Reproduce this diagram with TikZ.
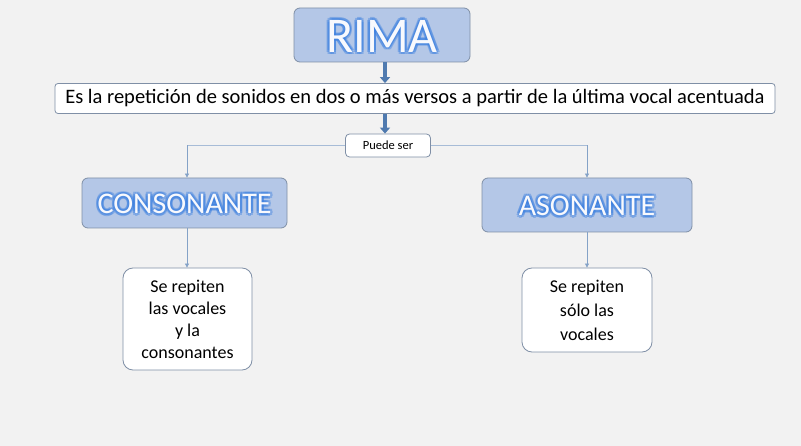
\documentclass[tikz,border=0pt]{standalone}
\usetikzlibrary{arrows.meta}
\usepackage{fontspec}
\setmainfont{Carlito}
\definecolor{bg}{HTML}{F2F2F2}
\definecolor{bfill}{HTML}{B4C7E7}
\definecolor{bdraw}{HTML}{7F8FA6}
\definecolor{arr}{HTML}{4F7AAF}
\definecolor{glow}{HTML}{3A7FE0}
\newcommand{\glowtext}[4]{% name, pos, size, text
  \foreach \dx/\dy in {-2.5/0,2.5/0,0/-2.5,0/2.5,-2/-2,2/2,-2/2,2/-2}{
    \node[text=glow,opacity=0.4,font=\fontsize{#3}{#3}\selectfont] at ([shift={(\dx,\dy)}]#2) {#4};}
  \node[text=white!90!bfill,font=\fontsize{#3}{#3}\selectfont] at (#2) {#4};}
\begin{document}
\begin{tikzpicture}[x=1pt,y=-1pt,
  bluebox/.style={draw=bdraw,fill=bfill,rounded corners=6pt,line width=0.8pt},
  whitebox/.style={draw=bdraw,fill=white,rounded corners=6pt,line width=0.8pt},
  thick arrow/.style={draw=arr,line width=3.5pt,-{Triangle[length=6pt,width=10pt]}},
  thin arrow/.style={draw=arr!70,line width=0.7pt,-{Triangle[length=4pt,width=4pt]}},
  hline/.style={draw=arr!50,line width=0.8pt}]
\useasboundingbox[fill=bg] (0,0) rectangle (801,446);
\node[bluebox,minimum width=176pt,minimum height=54pt] (rima) at (382,35) {};
\glowtext{rima}{382,36}{50}{RIMA}
\node[whitebox,rounded corners=3pt,minimum width=720pt,minimum height=30pt,font=\fontsize{20.5}{20.5}\selectfont] (def) at (415,98.5) {Es la repetición de sonidos en dos o más versos a partir de la última vocal acentuada};
\node[whitebox,rounded corners=4pt,minimum width=85pt,minimum height=23pt,font=\fontsize{12.5}{12.5}\selectfont] (puede) at (388,145.5) {Puede ser};
\draw[thick arrow] (rima.south -| 385,0) -- (def.north -| 385,0);
\draw[thick arrow] (def.south -| 385,0) -- (puede.north -| 385,0);
\node[bluebox,minimum width=205pt,minimum height=50pt] (cons) at (184.5,203) {};
\glowtext{cons}{184.5,204}{30}{CONSONANTE}
\node[bluebox,minimum width=210pt,minimum height=54pt] (ason) at (587,205) {};
\glowtext{ason}{587,206}{30}{ASONANTE}
\coordinate (lc) at (187,145.5);
\coordinate (rc) at (587,145.5);
\draw[hline] (puede.west) -- (lc);
\draw[hline] (puede.east) -- (rc);
\draw[thin arrow] (lc) -- (lc |- cons.north);
\draw[thin arrow] (rc) -- (rc |- ason.north);
\node[whitebox,rounded corners=10pt,minimum width=129pt,minimum height=102pt,align=center,font=\fontsize{18}{22}\selectfont] (bl) at (187.5,319) {Se repiten\\las vocales\\y la\\consonantes};
\node[whitebox,rounded corners=10pt,minimum width=130pt,minimum height=84pt,align=center,font=\fontsize{18}{24}\selectfont] (br) at (587,310) {Se repiten\\sólo las\\vocales};
\draw[thin arrow] (cons.south -| 187,0) -- (bl.north -| 187,0);
\draw[thin arrow] (ason.south -| 587,0) -- (br.north -| 587,0);
\end{tikzpicture}
\end{document}
